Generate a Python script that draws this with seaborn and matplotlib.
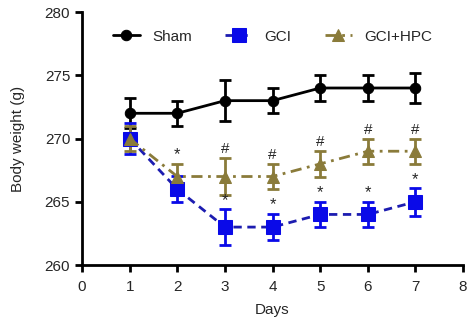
import matplotlib
matplotlib.use("Agg")
import matplotlib.pyplot as plt
import seaborn as sns
import pandas as pd

days = [1, 2, 3, 4, 5, 6, 7]
sham = [272, 272, 273, 273, 274, 274, 274]
sham_err = [1.2, 1.0, 1.6, 1.0, 1.0, 1.0, 1.2]
gci = [270, 266, 263, 263, 264, 264, 265]
gci_err = [1.2, 1.05, 1.4, 1.05, 1.0, 1.0, 1.1]
hpc = [270, 267, 267, 267, 268, 269, 269]
hpc_err = [1.0, 1.0, 1.5, 1.0, 1.0, 1.0, 1.0]
groups = ["Sham", "GCI", "GCI+HPC"]
star_gci_days = [3, 4, 5, 6, 7]
hash_hpc_days = [3, 4, 5, 6, 7]
star_hpc_days = [2]

sns.set_style("ticks")
plt.rcParams['font.family'] = ['Liberation Sans', 'DejaVu Sans']

df = pd.DataFrame({
    "Days": days * 3,
    "Weight": sham + gci + hpc,
    "Group": ["Sham"] * 7 + ["GCI"] * 7 + ["GCI+HPC"] * 7,
})

colors = {"Sham": "#000000", "GCI": "#0a0ae8", "GCI+HPC": "#8a7b3a"}
line_colors = {"Sham": "#000000", "GCI": "#1c1cb0", "GCI+HPC": "#8a7b3a"}
markers = {"Sham": "o", "GCI": "s", "GCI+HPC": "^"}
msizes = {"Sham": 7.5, "GCI": 9.5, "GCI+HPC": 8}
dashes = {"Sham": "", "GCI": (3, 2), "GCI+HPC": (4, 2, 1, 2)}
errs = {"Sham": sham_err, "GCI": gci_err, "GCI+HPC": hpc_err}
vals = {"Sham": sham, "GCI": gci, "GCI+HPC": hpc}

fig = plt.figure(figsize=(4.74, 3.28), dpi=100)
ax = fig.add_axes([0.173, 0.192, 0.804, 0.771])

for g in groups:
    ax.errorbar(days, vals[g], yerr=errs[g], fmt="none", ecolor=colors[g],
                elinewidth=2, capsize=4.5, capthick=2, zorder=2)

for g in groups:
    sub = df[df["Group"] == g]
    sns.lineplot(data=sub, x="Days", y="Weight", ax=ax, color=line_colors[g],
                 marker=markers[g], markersize=msizes[g], markerfacecolor=colors[g],
                 markeredgecolor=colors[g], linewidth=2,
                 label=g, zorder=3)
    if dashes[g]:
        ax.lines[-1].set_dashes(dashes[g])

for d in star_gci_days:
    i = days.index(d)
    ax.text(d, gci[i] + gci_err[i] + 0.1, "*", ha="center", va="bottom", fontsize=12)
for d in star_hpc_days:
    i = days.index(d)
    ax.text(d, hpc[i] + hpc_err[i] + 0.1, "*", ha="center", va="bottom", fontsize=12)
for d in hash_hpc_days:
    i = days.index(d)
    ax.text(d, hpc[i] + hpc_err[i] + 0.15, "#", ha="center", va="bottom", fontsize=11)

ax.set_xlim(0, 8)
ax.set_ylim(260, 280)
ax.set_xticks(range(0, 9))
ax.set_yticks([260, 265, 270, 275, 280])
ax.set_xlabel("Days", fontsize=11, labelpad=6)
ax.set_ylabel("Body weight (g)", fontsize=11, labelpad=14)
ax.tick_params(axis="both", labelsize=11, width=2, length=5, color="black")
ax.tick_params(axis="x", pad=6)
for s in ["left", "bottom"]:
    ax.spines[s].set_linewidth(2)
    ax.spines[s].set_color("black")
sns.despine(ax=ax)

ax.legend(loc="upper center", bbox_to_anchor=(0.5, 0.985), ncol=3, frameon=False,
          fontsize=11, handlelength=1.75, columnspacing=2.2, handletextpad=0.8)

fig.savefig("out.png", dpi=100)
